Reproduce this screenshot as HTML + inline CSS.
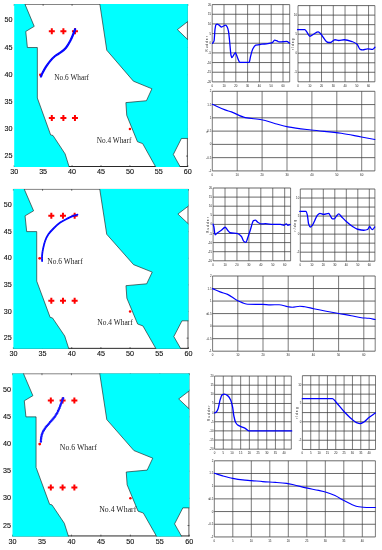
<!DOCTYPE html>
<html><head><meta charset="utf-8"><title>Ship berthing simulation</title>
<style>
html,body{margin:0;padding:0;background:#fff;}
svg{display:block;}
.t{font-family:"Liberation Sans",sans-serif;font-size:7.2px;fill:#111;stroke:#111;stroke-width:0.12px;}
.s{font-family:"Liberation Serif",serif;fill:#222;}
.m{font-family:"Liberation Sans",sans-serif;font-size:2.9px;fill:#222;}
</style></head><body>
<svg width="382" height="550" viewBox="0 0 382 550">
<rect width="382" height="550" fill="#fff"/>
<rect x="14.20" y="4.10" width="173.60" height="162.85" fill="#fff"/>
<path d="M14.20,4.50H187.80" stroke="#666" stroke-width="0.8" fill="none"/>
<path d="M187.40,4.10V166.95" stroke="#333" stroke-width="0.8" fill="none"/>
<path d="M14.20,166.50H187.80" stroke="#111" stroke-width="0.9" fill="none"/>
<line x1="14.20" y1="166.95" x2="14.20" y2="165.15" stroke="#222" stroke-width="0.6"/>
<line x1="14.20" y1="4.10" x2="14.20" y2="5.90" stroke="#222" stroke-width="0.6"/>
<text x="14.20" y="174.45" class="t" text-anchor="middle">30</text>
<line x1="43.13" y1="166.95" x2="43.13" y2="165.15" stroke="#222" stroke-width="0.6"/>
<line x1="43.13" y1="4.10" x2="43.13" y2="5.90" stroke="#222" stroke-width="0.6"/>
<text x="43.13" y="174.45" class="t" text-anchor="middle">35</text>
<line x1="72.07" y1="166.95" x2="72.07" y2="165.15" stroke="#222" stroke-width="0.6"/>
<line x1="72.07" y1="4.10" x2="72.07" y2="5.90" stroke="#222" stroke-width="0.6"/>
<text x="72.07" y="174.45" class="t" text-anchor="middle">40</text>
<line x1="101.00" y1="166.95" x2="101.00" y2="165.15" stroke="#222" stroke-width="0.6"/>
<line x1="101.00" y1="4.10" x2="101.00" y2="5.90" stroke="#222" stroke-width="0.6"/>
<text x="101.00" y="174.45" class="t" text-anchor="middle">45</text>
<line x1="129.93" y1="166.95" x2="129.93" y2="165.15" stroke="#222" stroke-width="0.6"/>
<line x1="129.93" y1="4.10" x2="129.93" y2="5.90" stroke="#222" stroke-width="0.6"/>
<text x="129.93" y="174.45" class="t" text-anchor="middle">50</text>
<line x1="158.87" y1="166.95" x2="158.87" y2="165.15" stroke="#222" stroke-width="0.6"/>
<line x1="158.87" y1="4.10" x2="158.87" y2="5.90" stroke="#222" stroke-width="0.6"/>
<text x="158.87" y="174.45" class="t" text-anchor="middle">55</text>
<line x1="187.80" y1="166.95" x2="187.80" y2="165.15" stroke="#222" stroke-width="0.6"/>
<line x1="187.80" y1="4.10" x2="187.80" y2="5.90" stroke="#222" stroke-width="0.6"/>
<text x="187.80" y="174.45" class="t" text-anchor="middle">60</text>
<line x1="187.80" y1="156.09" x2="186.00" y2="156.09" stroke="#222" stroke-width="0.6"/>
<text x="12.60" y="158.19" class="t" text-anchor="end">25</text>
<line x1="187.80" y1="128.95" x2="186.00" y2="128.95" stroke="#222" stroke-width="0.6"/>
<text x="12.60" y="131.05" class="t" text-anchor="end">30</text>
<line x1="187.80" y1="101.81" x2="186.00" y2="101.81" stroke="#222" stroke-width="0.6"/>
<text x="12.60" y="103.91" class="t" text-anchor="end">35</text>
<line x1="187.80" y1="74.67" x2="186.00" y2="74.67" stroke="#222" stroke-width="0.6"/>
<text x="12.60" y="76.77" class="t" text-anchor="end">40</text>
<line x1="187.80" y1="47.53" x2="186.00" y2="47.53" stroke="#222" stroke-width="0.6"/>
<text x="12.60" y="49.63" class="t" text-anchor="end">45</text>
<line x1="187.80" y1="20.38" x2="186.00" y2="20.38" stroke="#222" stroke-width="0.6"/>
<text x="12.60" y="22.48" class="t" text-anchor="end">50</text>
<polygon points="14.20,4.10 24.91,4.10 34.22,26.36 25.77,31.46 27.39,47.53 37.35,47.53 37.35,98.01 50.66,134.92 52.97,135.47 65.12,153.92 69.17,166.95 14.20,166.95" fill="#00ffff"/>
<path d="M24.91,4.10L34.22,26.36L25.77,31.46L27.39,47.53L37.35,47.53L37.35,98.01L50.66,134.92L52.97,135.47L65.12,153.92L69.17,166.95" fill="none" stroke="#222" stroke-width="0.65" stroke-linejoin="miter"/>
<polygon points="99.84,4.10 106.79,50.24 133.41,81.18 151.92,88.78 146.43,100.72 125.88,102.62 126.75,115.38 137.46,141.71 142.66,143.61 155.68,166.95 180.28,166.95 173.33,154.46 181.43,138.45 187.80,138.45 187.80,39.66 177.38,29.61 187.80,21.47 187.80,4.10" fill="#00ffff"/>
<path d="M99.84,4.10L106.79,50.24L133.41,81.18L151.92,88.78L146.43,100.72L125.88,102.62L126.75,115.38L137.46,141.71L142.66,143.61L155.68,166.95M180.28,166.95L173.33,154.46L181.43,138.45L187.80,138.45M187.80,39.66L177.38,29.61L187.80,21.47" fill="none" stroke="#222" stroke-width="0.65" stroke-linejoin="miter"/>
<path d="M48.81,31.24H54.81M51.81,28.24V34.24" stroke="#ff0000" stroke-width="2" fill="none"/>
<path d="M60.39,31.24H66.39M63.39,28.24V34.24" stroke="#ff0000" stroke-width="2" fill="none"/>
<path d="M71.96,31.24H77.96M74.96,28.24V34.24" stroke="#ff0000" stroke-width="2" fill="none"/>
<path d="M48.81,118.09H54.81M51.81,115.09V121.09" stroke="#ff0000" stroke-width="2" fill="none"/>
<path d="M60.39,118.09H66.39M63.39,115.09V121.09" stroke="#ff0000" stroke-width="2" fill="none"/>
<path d="M71.96,118.09H77.96M74.96,115.09V121.09" stroke="#ff0000" stroke-width="2" fill="none"/>
<circle cx="40.40" cy="74.80" r="1.4" fill="#ff0000"/>
<circle cx="129.93" cy="128.95" r="1.25" fill="#ff0000"/>
<path d="M40.90,76.60 C41.18,75.97 41.77,74.42 42.60,72.80 C43.43,71.18 44.65,68.85 45.90,66.90 C47.15,64.95 48.57,62.92 50.10,61.10 C51.63,59.28 53.28,57.48 55.10,56.00 C56.92,54.52 59.18,53.58 61.00,52.20 C62.82,50.82 64.47,49.57 66.00,47.70 C67.53,45.83 69.00,43.23 70.20,41.00 C71.40,38.77 72.37,36.27 73.20,34.30 C74.03,32.33 74.87,30.05 75.20,29.20" stroke="#0000ff" stroke-width="2.2" fill="none" stroke-linecap="round"/>
<path d="M40.90,76.60 C41.18,75.97 41.77,74.42 42.60,72.80 C43.43,71.18 44.65,68.85 45.90,66.90 C47.15,64.95 48.57,62.92 50.10,61.10 C51.63,59.28 53.28,57.48 55.10,56.00 C56.92,54.52 59.18,53.58 61.00,52.20 C62.82,50.82 64.47,49.57 66.00,47.70 C67.53,45.83 69.00,43.23 70.20,41.00 C71.40,38.77 72.37,36.27 73.20,34.30 C74.03,32.33 74.87,30.05 75.20,29.20" stroke="#6a6aff" stroke-width="0.5" fill="none" stroke-dasharray="0.7 1.6" opacity="0.8"/>
<text x="54.30" y="79.80" class="s" font-size="7.3">No.6 Wharf</text>
<text x="96.70" y="142.60" class="s" font-size="7.3">No.4 Wharf</text>
<rect x="212.20" y="4.60" width="77.50" height="77.30" fill="#fff"/>
<path d="M212.20,4.60V81.90M224.00,4.60V81.90M235.80,4.60V81.90M247.60,4.60V81.90M259.40,4.60V81.90M271.20,4.60V81.90M283.00,4.60V81.90M289.70,4.60V81.90" stroke="#555" stroke-width="0.78" fill="none"/>
<path d="M212.20,4.60H289.70M212.20,14.26H289.70M212.20,23.92H289.70M212.20,33.58H289.70M212.20,43.24H289.70M212.20,52.90H289.70M212.20,62.56H289.70M212.20,72.22H289.70M212.20,81.88H289.70" stroke="#3c3c3c" stroke-width="0.78" fill="none"/>
<path d="M212.54,43.34 C213.05,42.50 213.55,42.38 214.05,40.83 C214.39,39.80 214.72,31.13 215.06,28.89 C215.35,26.93 215.64,25.03 215.93,24.75 C216.35,24.35 216.77,24.12 217.19,24.12 C217.82,24.12 218.45,24.74 219.08,25.13 C219.91,25.64 220.75,27.01 221.59,27.01 C222.43,27.01 223.26,26.13 224.10,25.75 C224.60,25.53 225.11,25.13 225.61,25.13 C226.15,25.13 226.70,26.04 227.24,27.01 C227.66,27.75 228.08,29.30 228.50,31.41 C228.92,33.52 229.34,38.75 229.75,42.71 C230.17,46.68 230.59,53.62 231.01,55.28 C231.30,56.44 231.60,57.54 231.89,57.54 C232.43,57.54 232.98,56.02 233.52,55.28 C234.15,54.42 234.78,52.76 235.41,52.76 C235.83,52.76 236.24,54.33 236.66,55.28 C237.29,56.70 237.92,59.02 238.55,60.30 C238.97,61.16 239.39,62.44 239.80,62.44 C240.43,62.44 241.06,62.44 241.69,62.44 C244.20,62.44 246.71,62.44 249.23,62.44 C249.57,62.44 249.91,59.16 250.25,57.79 C251.09,54.42 251.93,50.56 252.76,48.99 C253.77,47.12 254.77,45.56 255.78,45.23 C257.71,44.59 259.63,44.43 261.56,44.22 C263.65,43.99 265.75,43.97 267.84,43.72 C269.35,43.54 270.85,43.32 272.36,42.71 C273.12,42.41 273.87,40.20 274.62,40.20 C275.29,40.20 275.96,40.48 276.63,40.70 C277.47,40.98 278.31,41.96 279.15,41.96 C280.40,41.96 281.66,41.79 282.91,41.71 C284.17,41.62 285.43,41.46 286.68,41.46 C287.69,41.46 288.69,42.63 289.70,43.22" stroke="#0000ff" stroke-width="1.3" fill="none" stroke-linejoin="round" stroke-linecap="round"/>
<text x="212.20" y="86.90" class="m" text-anchor="middle">0</text>
<text x="224.00" y="86.90" class="m" text-anchor="middle">10</text>
<text x="235.80" y="86.90" class="m" text-anchor="middle">20</text>
<text x="247.60" y="86.90" class="m" text-anchor="middle">30</text>
<text x="259.40" y="86.90" class="m" text-anchor="middle">40</text>
<text x="271.20" y="86.90" class="m" text-anchor="middle">50</text>
<text x="283.00" y="86.90" class="m" text-anchor="middle">60</text>
<text x="289.70" y="86.90" class="m" text-anchor="middle"></text>
<text x="211.20" y="5.60" class="m" text-anchor="end">20</text>
<text x="211.20" y="15.26" class="m" text-anchor="end">15</text>
<text x="211.20" y="24.92" class="m" text-anchor="end">10</text>
<text x="211.20" y="34.58" class="m" text-anchor="end">5</text>
<text x="211.20" y="44.24" class="m" text-anchor="end">0</text>
<text x="211.20" y="53.90" class="m" text-anchor="end">-5</text>
<text x="211.20" y="63.56" class="m" text-anchor="end">-10</text>
<text x="211.20" y="73.22" class="m" text-anchor="end">-15</text>
<text x="211.20" y="82.88" class="m" text-anchor="end">-20</text>
<text transform="translate(208.00,43.25) rotate(-90)" class="m" font-size="3" letter-spacing="1.2" text-anchor="middle">Rudder</text>
<rect x="298.00" y="5.60" width="76.90" height="76.20" fill="#fff"/>
<path d="M298.00,5.60V81.80M309.76,5.60V81.80M321.52,5.60V81.80M333.28,5.60V81.80M345.04,5.60V81.80M356.80,5.60V81.80M368.56,5.60V81.80M374.90,5.60V81.80" stroke="#555" stroke-width="0.78" fill="none"/>
<path d="M298.00,5.60H374.90M298.00,15.12H374.90M298.00,24.65H374.90M298.00,34.18H374.90M298.00,43.70H374.90M298.00,53.23H374.90M298.00,62.75H374.90M298.00,72.27H374.90M298.00,81.80H374.90" stroke="#3c3c3c" stroke-width="0.78" fill="none"/>
<path d="M297.56,29.70 C299.99,29.70 302.42,29.70 304.84,29.70 C305.43,29.70 306.02,30.98 306.60,31.71 C307.69,33.06 308.78,36.23 309.87,36.23 C311.13,36.23 312.38,34.87 313.64,34.22 C315.15,33.44 316.65,31.96 318.16,31.96 C318.75,31.96 319.33,32.52 319.92,32.96 C321.18,33.92 322.43,36.45 323.69,37.99 C324.94,39.53 326.20,42.04 327.46,42.26 C328.29,42.41 329.13,42.51 329.97,42.51 C331.64,42.51 333.32,39.75 334.99,39.75 C336.25,39.75 337.51,40.50 338.76,40.50 C340.61,40.50 342.45,39.75 344.29,39.75 C347.06,39.75 349.82,40.79 352.58,41.76 C354.09,42.29 355.60,42.97 357.11,44.27 C358.11,45.14 359.12,48.94 360.12,49.29 C360.96,49.59 361.80,49.80 362.63,49.80 C364.31,49.80 365.98,48.79 367.66,48.79 C369.33,48.79 371.01,49.29 372.68,49.29 C373.44,49.29 374.19,47.95 374.94,47.28" stroke="#0000ff" stroke-width="1.3" fill="none" stroke-linejoin="round" stroke-linecap="round"/>
<text x="298.00" y="86.80" class="m" text-anchor="middle">0</text>
<text x="309.76" y="86.80" class="m" text-anchor="middle">10</text>
<text x="321.52" y="86.80" class="m" text-anchor="middle">20</text>
<text x="333.28" y="86.80" class="m" text-anchor="middle">30</text>
<text x="345.04" y="86.80" class="m" text-anchor="middle">40</text>
<text x="356.80" y="86.80" class="m" text-anchor="middle">50</text>
<text x="368.56" y="86.80" class="m" text-anchor="middle">60</text>
<text x="374.90" y="86.80" class="m" text-anchor="middle"></text>
<text x="297.00" y="6.60" class="m" text-anchor="end"></text>
<text x="297.00" y="16.12" class="m" text-anchor="end">10</text>
<text x="297.00" y="25.65" class="m" text-anchor="end"></text>
<text x="297.00" y="35.18" class="m" text-anchor="end">5</text>
<text x="297.00" y="44.70" class="m" text-anchor="end"></text>
<text x="297.00" y="54.23" class="m" text-anchor="end">0</text>
<text x="297.00" y="63.75" class="m" text-anchor="end"></text>
<text x="297.00" y="73.27" class="m" text-anchor="end">-5</text>
<text x="297.00" y="82.80" class="m" text-anchor="end"></text>
<text transform="translate(293.80,43.70) rotate(-90)" class="m" font-size="3" letter-spacing="1.2" text-anchor="middle">r/deg</text>
<rect x="212.30" y="91.30" width="162.60" height="79.60" fill="#fff"/>
<path d="M212.30,91.30V170.90M237.20,91.30V170.90M262.10,91.30V170.90M287.00,91.30V170.90M311.90,91.30V170.90M336.80,91.30V170.90M361.70,91.30V170.90M374.90,91.30V170.90" stroke="#555" stroke-width="0.78" fill="none"/>
<path d="M212.30,91.30H374.90M212.30,104.57H374.90M212.30,117.84H374.90M212.30,131.11H374.90M212.30,144.38H374.90M212.30,157.65H374.90M212.30,170.92H374.90" stroke="#3c3c3c" stroke-width="0.78" fill="none"/>
<path d="M212.30,104.30 C216.57,106.17 220.83,108.36 225.10,109.90 C227.20,110.66 229.30,111.16 231.40,111.90 C236.00,113.52 240.60,116.69 245.20,117.60 C250.67,118.69 256.13,118.72 261.60,119.70 C266.20,120.53 270.80,122.45 275.40,123.70 C279.57,124.83 283.73,126.14 287.90,126.90 C295.63,128.30 303.37,129.08 311.10,130.00 C321.17,131.20 331.23,131.81 341.30,133.20 C348.00,134.13 354.70,135.75 361.40,137.00 C365.90,137.84 370.40,138.67 374.90,139.50" stroke="#0000ff" stroke-width="1.15" fill="none" stroke-linejoin="round" stroke-linecap="round"/>
<text x="212.30" y="175.90" class="m" text-anchor="middle">0</text>
<text x="237.20" y="175.90" class="m" text-anchor="middle">10</text>
<text x="262.10" y="175.90" class="m" text-anchor="middle">20</text>
<text x="287.00" y="175.90" class="m" text-anchor="middle">30</text>
<text x="311.90" y="175.90" class="m" text-anchor="middle">40</text>
<text x="336.80" y="175.90" class="m" text-anchor="middle">50</text>
<text x="361.70" y="175.90" class="m" text-anchor="middle">60</text>
<text x="374.90" y="175.90" class="m" text-anchor="middle"></text>
<text x="211.30" y="92.30" class="m" text-anchor="end">2</text>
<text x="211.30" y="105.57" class="m" text-anchor="end">1.5</text>
<text x="211.30" y="118.84" class="m" text-anchor="end">1</text>
<text x="211.30" y="132.11" class="m" text-anchor="end">0.5</text>
<text x="211.30" y="145.38" class="m" text-anchor="end">0</text>
<text x="211.30" y="158.65" class="m" text-anchor="end">-0.5</text>
<text x="211.30" y="171.92" class="m" text-anchor="end">-1</text>
<text transform="translate(208.10,131.10) rotate(-90)" class="m" font-size="3" letter-spacing="1.2" text-anchor="middle">u</text>
<rect x="13.40" y="189.00" width="175.00" height="159.80" fill="#fff"/>
<path d="M13.40,189.40H188.40" stroke="#666" stroke-width="0.8" fill="none"/>
<path d="M188.00,189.00V348.80" stroke="#333" stroke-width="0.8" fill="none"/>
<path d="M13.40,348.35H188.40" stroke="#111" stroke-width="0.9" fill="none"/>
<line x1="13.40" y1="348.80" x2="13.40" y2="347.00" stroke="#222" stroke-width="0.6"/>
<line x1="13.40" y1="189.00" x2="13.40" y2="190.80" stroke="#222" stroke-width="0.6"/>
<text x="13.40" y="356.30" class="t" text-anchor="middle">30</text>
<line x1="42.57" y1="348.80" x2="42.57" y2="347.00" stroke="#222" stroke-width="0.6"/>
<line x1="42.57" y1="189.00" x2="42.57" y2="190.80" stroke="#222" stroke-width="0.6"/>
<text x="42.57" y="356.30" class="t" text-anchor="middle">35</text>
<line x1="71.73" y1="348.80" x2="71.73" y2="347.00" stroke="#222" stroke-width="0.6"/>
<line x1="71.73" y1="189.00" x2="71.73" y2="190.80" stroke="#222" stroke-width="0.6"/>
<text x="71.73" y="356.30" class="t" text-anchor="middle">40</text>
<line x1="100.90" y1="348.80" x2="100.90" y2="347.00" stroke="#222" stroke-width="0.6"/>
<line x1="100.90" y1="189.00" x2="100.90" y2="190.80" stroke="#222" stroke-width="0.6"/>
<text x="100.90" y="356.30" class="t" text-anchor="middle">45</text>
<line x1="130.07" y1="348.80" x2="130.07" y2="347.00" stroke="#222" stroke-width="0.6"/>
<line x1="130.07" y1="189.00" x2="130.07" y2="190.80" stroke="#222" stroke-width="0.6"/>
<text x="130.07" y="356.30" class="t" text-anchor="middle">50</text>
<line x1="159.23" y1="348.80" x2="159.23" y2="347.00" stroke="#222" stroke-width="0.6"/>
<line x1="159.23" y1="189.00" x2="159.23" y2="190.80" stroke="#222" stroke-width="0.6"/>
<text x="159.23" y="356.30" class="t" text-anchor="middle">55</text>
<line x1="188.40" y1="348.80" x2="188.40" y2="347.00" stroke="#222" stroke-width="0.6"/>
<line x1="188.40" y1="189.00" x2="188.40" y2="190.80" stroke="#222" stroke-width="0.6"/>
<text x="188.40" y="356.30" class="t" text-anchor="middle">60</text>
<line x1="188.40" y1="338.15" x2="186.60" y2="338.15" stroke="#222" stroke-width="0.6"/>
<text x="11.80" y="340.25" class="t" text-anchor="end">25</text>
<line x1="188.40" y1="311.51" x2="186.60" y2="311.51" stroke="#222" stroke-width="0.6"/>
<text x="11.80" y="313.61" class="t" text-anchor="end">30</text>
<line x1="188.40" y1="284.88" x2="186.60" y2="284.88" stroke="#222" stroke-width="0.6"/>
<text x="11.80" y="286.98" class="t" text-anchor="end">35</text>
<line x1="188.40" y1="258.25" x2="186.60" y2="258.25" stroke="#222" stroke-width="0.6"/>
<text x="11.80" y="260.35" class="t" text-anchor="end">40</text>
<line x1="188.40" y1="231.61" x2="186.60" y2="231.61" stroke="#222" stroke-width="0.6"/>
<text x="11.80" y="233.71" class="t" text-anchor="end">45</text>
<line x1="188.40" y1="204.98" x2="186.60" y2="204.98" stroke="#222" stroke-width="0.6"/>
<text x="11.80" y="207.08" class="t" text-anchor="end">50</text>
<polygon points="13.40,189.00 24.19,189.00 33.58,210.84 25.07,215.85 26.70,231.61 36.73,231.61 36.73,281.15 50.15,317.37 52.48,317.91 64.73,336.02 68.82,348.80 13.40,348.80" fill="#00ffff"/>
<path d="M24.19,189.00L33.58,210.84L25.07,215.85L26.70,231.61L36.73,231.61L36.73,281.15L50.15,317.37L52.48,317.91L64.73,336.02L68.82,348.80" fill="none" stroke="#222" stroke-width="0.65" stroke-linejoin="miter"/>
<polygon points="99.73,189.00 106.73,234.28 133.57,264.64 152.23,272.10 146.69,283.81 125.98,285.68 126.86,298.20 137.65,324.03 142.90,325.90 156.03,348.80 180.82,348.80 173.82,336.55 181.98,320.84 188.40,320.84 188.40,223.89 177.90,214.04 188.40,206.05 188.40,189.00" fill="#00ffff"/>
<path d="M99.73,189.00L106.73,234.28L133.57,264.64L152.23,272.10L146.69,283.81L125.98,285.68L126.86,298.20L137.65,324.03L142.90,325.90L156.03,348.80M180.82,348.80L173.82,336.55L181.98,320.84L188.40,320.84M188.40,223.89L177.90,214.04L188.40,206.05" fill="none" stroke="#222" stroke-width="0.65" stroke-linejoin="miter"/>
<path d="M48.32,215.63H54.32M51.32,212.63V218.63" stroke="#ff0000" stroke-width="2" fill="none"/>
<path d="M59.98,215.63H65.98M62.98,212.63V218.63" stroke="#ff0000" stroke-width="2" fill="none"/>
<path d="M71.65,215.63H77.65M74.65,212.63V218.63" stroke="#ff0000" stroke-width="2" fill="none"/>
<path d="M48.32,300.86H54.32M51.32,297.86V303.86" stroke="#ff0000" stroke-width="2" fill="none"/>
<path d="M59.98,300.86H65.98M62.98,297.86V303.86" stroke="#ff0000" stroke-width="2" fill="none"/>
<path d="M71.65,300.86H77.65M74.65,297.86V303.86" stroke="#ff0000" stroke-width="2" fill="none"/>
<circle cx="39.70" cy="258.30" r="1.4" fill="#ff0000"/>
<circle cx="130.07" cy="311.51" r="1.25" fill="#ff0000"/>
<path d="M42.10,261.10 C42.10,260.13 41.93,257.38 42.10,255.30 C42.27,253.22 42.60,250.98 43.10,248.60 C43.60,246.22 44.22,243.38 45.10,241.00 C45.98,238.62 47.00,236.38 48.40,234.30 C49.80,232.22 51.53,230.45 53.50,228.50 C55.47,226.55 57.83,224.28 60.20,222.60 C62.57,220.92 65.42,219.57 67.70,218.40 C69.98,217.23 72.28,216.23 73.90,215.60 C75.52,214.97 76.82,214.77 77.40,214.60" stroke="#0000ff" stroke-width="1.8" fill="none" stroke-linecap="round"/>
<path d="M42.10,261.10 C42.10,260.13 41.93,257.38 42.10,255.30 C42.27,253.22 42.60,250.98 43.10,248.60 C43.60,246.22 44.22,243.38 45.10,241.00 C45.98,238.62 47.00,236.38 48.40,234.30 C49.80,232.22 51.53,230.45 53.50,228.50 C55.47,226.55 57.83,224.28 60.20,222.60 C62.57,220.92 65.42,219.57 67.70,218.40 C69.98,217.23 72.28,216.23 73.90,215.60 C75.52,214.97 76.82,214.77 77.40,214.60" stroke="#6a6aff" stroke-width="0.5" fill="none" stroke-dasharray="0.7 1.6" opacity="0.8"/>
<text x="47.30" y="263.60" class="s" font-size="7.45">No.6 Wharf</text>
<text x="97.30" y="325.30" class="s" font-size="7.45">No.4 Wharf</text>
<rect x="213.10" y="188.00" width="77.50" height="72.80" fill="#fff"/>
<path d="M213.10,188.00V260.80M225.03,188.00V260.80M236.96,188.00V260.80M248.89,188.00V260.80M260.82,188.00V260.80M272.75,188.00V260.80M284.68,188.00V260.80M290.60,188.00V260.80" stroke="#555" stroke-width="0.78" fill="none"/>
<path d="M213.10,188.00H290.60M213.10,197.10H290.60M213.10,206.20H290.60M213.10,215.30H290.60M213.10,224.40H290.60M213.10,233.50H290.60M213.10,242.60H290.60M213.10,251.70H290.60M213.10,260.80H290.60" stroke="#3c3c3c" stroke-width="0.78" fill="none"/>
<path d="M213.07,224.22 C213.32,224.97 213.57,225.48 213.82,226.48 C214.24,228.16 214.66,234.77 215.08,234.77 C215.91,234.77 216.75,233.38 217.59,232.76 C218.84,231.84 220.10,231.16 221.36,230.25 C222.61,229.34 223.87,227.24 225.13,227.24 C225.96,227.24 226.80,229.34 227.64,230.25 C228.48,231.16 229.31,232.59 230.15,232.76 C232.66,233.29 235.18,233.03 237.69,233.52 C238.94,233.76 240.20,235.05 241.46,236.53 C242.29,237.52 243.13,241.04 243.97,241.56 C244.64,241.97 245.31,242.31 245.98,242.31 C246.57,242.31 247.15,239.41 247.74,237.79 C248.58,235.48 249.41,232.73 250.25,230.25 C251.34,227.03 252.43,221.23 253.52,220.70 C254.10,220.42 254.69,220.20 255.28,220.20 C256.11,220.20 256.95,221.71 257.79,222.21 C259.05,222.96 260.30,223.97 261.56,223.97 C262.81,223.97 264.07,223.72 265.33,223.72 C267.84,223.72 270.35,224.47 272.86,224.47 C275.38,224.47 277.89,224.47 280.40,224.47 C281.66,224.47 282.91,225.23 284.17,225.23 C284.84,225.23 285.51,223.97 286.18,223.97 C286.77,223.97 287.35,225.23 287.94,225.23 C288.61,225.23 289.28,224.89 289.95,224.72" stroke="#0000ff" stroke-width="1.3" fill="none" stroke-linejoin="round" stroke-linecap="round"/>
<text x="213.10" y="265.80" class="m" text-anchor="middle">0</text>
<text x="225.03" y="265.80" class="m" text-anchor="middle">10</text>
<text x="236.96" y="265.80" class="m" text-anchor="middle">20</text>
<text x="248.89" y="265.80" class="m" text-anchor="middle">30</text>
<text x="260.82" y="265.80" class="m" text-anchor="middle">40</text>
<text x="272.75" y="265.80" class="m" text-anchor="middle">50</text>
<text x="284.68" y="265.80" class="m" text-anchor="middle">60</text>
<text x="290.60" y="265.80" class="m" text-anchor="middle"></text>
<text x="212.10" y="189.00" class="m" text-anchor="end">20</text>
<text x="212.10" y="198.10" class="m" text-anchor="end">15</text>
<text x="212.10" y="207.20" class="m" text-anchor="end">10</text>
<text x="212.10" y="216.30" class="m" text-anchor="end">5</text>
<text x="212.10" y="225.40" class="m" text-anchor="end">0</text>
<text x="212.10" y="234.50" class="m" text-anchor="end">-5</text>
<text x="212.10" y="243.60" class="m" text-anchor="end">-10</text>
<text x="212.10" y="252.70" class="m" text-anchor="end">-15</text>
<text x="212.10" y="261.80" class="m" text-anchor="end">-20</text>
<text transform="translate(208.90,224.40) rotate(-90)" class="m" font-size="3" letter-spacing="1.2" text-anchor="middle">Rudder</text>
<rect x="300.30" y="189.00" width="74.60" height="72.20" fill="#fff"/>
<path d="M300.30,189.00V261.20M311.80,189.00V261.20M323.30,189.00V261.20M334.80,189.00V261.20M346.30,189.00V261.20M357.80,189.00V261.20M369.30,189.00V261.20M374.90,189.00V261.20" stroke="#555" stroke-width="0.78" fill="none"/>
<path d="M300.30,189.00H374.90M300.30,198.03H374.90M300.30,207.05H374.90M300.30,216.07H374.90M300.30,225.10H374.90M300.30,234.12H374.90M300.30,243.15H374.90M300.30,252.18H374.90M300.30,261.20H374.90" stroke="#3c3c3c" stroke-width="0.78" fill="none"/>
<path d="M299.82,211.41 C301.91,211.41 304.01,211.41 306.10,211.41 C306.52,211.41 306.94,213.42 307.36,215.18 C307.78,216.93 308.19,222.78 308.61,223.97 C309.20,225.64 309.79,226.98 310.37,226.98 C311.04,226.98 311.71,226.03 312.38,225.23 C313.22,224.22 314.06,221.88 314.89,220.20 C315.73,218.53 316.57,216.04 317.41,215.18 C318.24,214.31 319.08,213.42 319.92,213.42 C321.18,213.42 322.43,214.42 323.69,214.42 C325.36,214.42 327.04,213.42 328.71,213.42 C329.13,213.42 329.55,214.57 329.97,215.18 C330.81,216.38 331.64,218.94 332.48,218.94 C333.07,218.94 333.65,218.94 334.24,218.94 C334.91,218.94 335.58,217.18 336.25,216.43 C337.09,215.50 337.93,213.92 338.76,213.92 C339.60,213.92 340.44,215.59 341.28,216.43 C342.95,218.11 344.63,219.96 346.30,221.46 C348.40,223.33 350.49,225.13 352.58,226.48 C354.26,227.57 355.93,228.82 357.61,229.25 C359.70,229.78 361.80,230.25 363.89,230.25 C365.15,230.25 366.40,229.98 367.66,229.50 C368.33,229.24 369.00,226.48 369.67,226.48 C370.25,226.48 370.84,228.64 371.43,228.99 C371.85,229.25 372.26,229.50 372.68,229.50 C373.35,229.50 374.02,227.82 374.69,226.98" stroke="#0000ff" stroke-width="1.3" fill="none" stroke-linejoin="round" stroke-linecap="round"/>
<text x="300.30" y="266.20" class="m" text-anchor="middle">0</text>
<text x="311.80" y="266.20" class="m" text-anchor="middle">10</text>
<text x="323.30" y="266.20" class="m" text-anchor="middle">20</text>
<text x="334.80" y="266.20" class="m" text-anchor="middle">30</text>
<text x="346.30" y="266.20" class="m" text-anchor="middle">40</text>
<text x="357.80" y="266.20" class="m" text-anchor="middle">50</text>
<text x="369.30" y="266.20" class="m" text-anchor="middle">60</text>
<text x="374.90" y="266.20" class="m" text-anchor="middle"></text>
<text x="299.30" y="190.00" class="m" text-anchor="end"></text>
<text x="299.30" y="199.03" class="m" text-anchor="end">10</text>
<text x="299.30" y="208.05" class="m" text-anchor="end"></text>
<text x="299.30" y="217.07" class="m" text-anchor="end">5</text>
<text x="299.30" y="226.10" class="m" text-anchor="end"></text>
<text x="299.30" y="235.12" class="m" text-anchor="end">0</text>
<text x="299.30" y="244.15" class="m" text-anchor="end"></text>
<text x="299.30" y="253.18" class="m" text-anchor="end">-5</text>
<text x="299.30" y="262.20" class="m" text-anchor="end"></text>
<text transform="translate(296.10,225.10) rotate(-90)" class="m" font-size="3" letter-spacing="1.2" text-anchor="middle">r/deg</text>
<rect x="212.60" y="276.00" width="162.60" height="75.20" fill="#fff"/>
<path d="M212.60,276.00V351.20M237.80,276.00V351.20M263.00,276.00V351.20M288.20,276.00V351.20M313.40,276.00V351.20M338.60,276.00V351.20M363.80,276.00V351.20M375.20,276.00V351.20" stroke="#555" stroke-width="0.78" fill="none"/>
<path d="M212.60,276.00H375.20M212.60,288.53H375.20M212.60,301.06H375.20M212.60,313.59H375.20M212.60,326.12H375.20M212.60,338.65H375.20M212.60,351.18H375.20" stroke="#3c3c3c" stroke-width="0.78" fill="none"/>
<path d="M212.60,288.60 C215.10,289.70 217.60,290.95 220.10,291.90 C222.60,292.85 225.10,293.33 227.60,294.40 C230.97,295.84 234.33,299.19 237.70,300.70 C241.03,302.19 244.37,304.11 247.70,304.20 C252.73,304.34 257.77,304.28 262.80,304.40 C265.33,304.46 267.87,304.90 270.40,304.90 C273.30,304.90 276.20,304.70 279.10,304.70 C282.03,304.70 284.97,306.27 287.90,306.70 C289.37,306.91 290.83,307.20 292.30,307.20 C294.80,307.20 297.30,306.20 299.80,306.20 C301.47,306.20 303.13,306.48 304.80,306.70 C307.73,307.09 310.67,308.08 313.60,308.70 C317.80,309.59 322.00,310.40 326.20,311.20 C330.40,312.00 334.60,312.75 338.80,313.50 C342.97,314.25 347.13,314.92 351.30,315.70 C354.67,316.33 358.03,317.32 361.40,317.70 C363.90,317.98 366.40,318.01 368.90,318.30 C371.00,318.54 373.10,319.10 375.20,319.50" stroke="#0000ff" stroke-width="1.15" fill="none" stroke-linejoin="round" stroke-linecap="round"/>
<text x="212.60" y="356.20" class="m" text-anchor="middle">0</text>
<text x="237.80" y="356.20" class="m" text-anchor="middle">10</text>
<text x="263.00" y="356.20" class="m" text-anchor="middle">20</text>
<text x="288.20" y="356.20" class="m" text-anchor="middle">30</text>
<text x="313.40" y="356.20" class="m" text-anchor="middle">40</text>
<text x="338.60" y="356.20" class="m" text-anchor="middle">50</text>
<text x="363.80" y="356.20" class="m" text-anchor="middle">60</text>
<text x="375.20" y="356.20" class="m" text-anchor="middle"></text>
<text x="211.60" y="277.00" class="m" text-anchor="end">2</text>
<text x="211.60" y="289.53" class="m" text-anchor="end">1.5</text>
<text x="211.60" y="302.06" class="m" text-anchor="end">1</text>
<text x="211.60" y="314.59" class="m" text-anchor="end">0.5</text>
<text x="211.60" y="327.12" class="m" text-anchor="end">0</text>
<text x="211.60" y="339.65" class="m" text-anchor="end">-0.5</text>
<text x="211.60" y="352.18" class="m" text-anchor="end">-1</text>
<text transform="translate(208.40,313.60) rotate(-90)" class="m" font-size="3" letter-spacing="1.2" text-anchor="middle">u</text>
<rect x="12.50" y="373.40" width="176.80" height="163.00" fill="#fff"/>
<path d="M12.50,373.80H189.30" stroke="#666" stroke-width="0.8" fill="none"/>
<path d="M188.90,373.40V536.40" stroke="#333" stroke-width="0.8" fill="none"/>
<path d="M12.50,535.95H189.30" stroke="#111" stroke-width="0.9" fill="none"/>
<line x1="12.50" y1="536.40" x2="12.50" y2="534.60" stroke="#222" stroke-width="0.6"/>
<line x1="12.50" y1="373.40" x2="12.50" y2="375.20" stroke="#222" stroke-width="0.6"/>
<text x="12.50" y="543.90" class="t" text-anchor="middle">30</text>
<line x1="41.97" y1="536.40" x2="41.97" y2="534.60" stroke="#222" stroke-width="0.6"/>
<line x1="41.97" y1="373.40" x2="41.97" y2="375.20" stroke="#222" stroke-width="0.6"/>
<text x="41.97" y="543.90" class="t" text-anchor="middle">35</text>
<line x1="71.43" y1="536.40" x2="71.43" y2="534.60" stroke="#222" stroke-width="0.6"/>
<line x1="71.43" y1="373.40" x2="71.43" y2="375.20" stroke="#222" stroke-width="0.6"/>
<text x="71.43" y="543.90" class="t" text-anchor="middle">40</text>
<line x1="100.90" y1="536.40" x2="100.90" y2="534.60" stroke="#222" stroke-width="0.6"/>
<line x1="100.90" y1="373.40" x2="100.90" y2="375.20" stroke="#222" stroke-width="0.6"/>
<text x="100.90" y="543.90" class="t" text-anchor="middle">45</text>
<line x1="130.37" y1="536.40" x2="130.37" y2="534.60" stroke="#222" stroke-width="0.6"/>
<line x1="130.37" y1="373.40" x2="130.37" y2="375.20" stroke="#222" stroke-width="0.6"/>
<text x="130.37" y="543.90" class="t" text-anchor="middle">50</text>
<line x1="159.83" y1="536.40" x2="159.83" y2="534.60" stroke="#222" stroke-width="0.6"/>
<line x1="159.83" y1="373.40" x2="159.83" y2="375.20" stroke="#222" stroke-width="0.6"/>
<text x="159.83" y="543.90" class="t" text-anchor="middle">55</text>
<line x1="189.30" y1="536.40" x2="189.30" y2="534.60" stroke="#222" stroke-width="0.6"/>
<line x1="189.30" y1="373.40" x2="189.30" y2="375.20" stroke="#222" stroke-width="0.6"/>
<text x="189.30" y="543.90" class="t" text-anchor="middle">60</text>
<line x1="189.30" y1="525.53" x2="187.50" y2="525.53" stroke="#222" stroke-width="0.6"/>
<text x="10.90" y="527.63" class="t" text-anchor="end">25</text>
<line x1="189.30" y1="498.37" x2="187.50" y2="498.37" stroke="#222" stroke-width="0.6"/>
<text x="10.90" y="500.47" class="t" text-anchor="end">30</text>
<line x1="189.30" y1="471.20" x2="187.50" y2="471.20" stroke="#222" stroke-width="0.6"/>
<text x="10.90" y="473.30" class="t" text-anchor="end">35</text>
<line x1="189.30" y1="444.03" x2="187.50" y2="444.03" stroke="#222" stroke-width="0.6"/>
<text x="10.90" y="446.13" class="t" text-anchor="end">40</text>
<line x1="189.30" y1="416.87" x2="187.50" y2="416.87" stroke="#222" stroke-width="0.6"/>
<text x="10.90" y="418.97" class="t" text-anchor="end">45</text>
<line x1="189.30" y1="389.70" x2="187.50" y2="389.70" stroke="#222" stroke-width="0.6"/>
<text x="10.90" y="391.80" class="t" text-anchor="end">50</text>
<polygon points="12.50,373.40 23.40,373.40 32.89,395.68 24.29,400.78 25.94,416.87 36.07,416.87 36.07,467.40 49.63,504.34 51.99,504.89 64.36,523.36 68.49,536.40 12.50,536.40" fill="#00ffff"/>
<path d="M23.40,373.40L32.89,395.68L24.29,400.78L25.94,416.87L36.07,416.87L36.07,467.40L49.63,504.34L51.99,504.89L64.36,523.36L68.49,536.40" fill="none" stroke="#222" stroke-width="0.65" stroke-linejoin="miter"/>
<polygon points="99.72,373.40 106.79,419.58 133.90,450.55 152.76,458.16 147.16,470.11 126.24,472.01 127.13,484.78 138.03,511.13 143.33,513.04 156.59,536.40 181.64,536.40 174.57,523.90 182.82,507.88 189.30,507.88 189.30,408.99 178.69,398.94 189.30,390.79 189.30,373.40" fill="#00ffff"/>
<path d="M99.72,373.40L106.79,419.58L133.90,450.55L152.76,458.16L147.16,470.11L126.24,472.01L127.13,484.78L138.03,511.13L143.33,513.04L156.59,536.40M181.64,536.40L174.57,523.90L182.82,507.88L189.30,507.88M189.30,408.99L178.69,398.94L189.30,390.79" fill="none" stroke="#222" stroke-width="0.65" stroke-linejoin="miter"/>
<path d="M47.81,400.57H53.81M50.81,397.57V403.57" stroke="#ff0000" stroke-width="2" fill="none"/>
<path d="M59.59,400.57H65.59M62.59,397.57V403.57" stroke="#ff0000" stroke-width="2" fill="none"/>
<path d="M71.38,400.57H77.38M74.38,397.57V403.57" stroke="#ff0000" stroke-width="2" fill="none"/>
<path d="M47.81,487.50H53.81M50.81,484.50V490.50" stroke="#ff0000" stroke-width="2" fill="none"/>
<path d="M59.59,487.50H65.59M62.59,484.50V490.50" stroke="#ff0000" stroke-width="2" fill="none"/>
<path d="M71.38,487.50H77.38M74.38,484.50V490.50" stroke="#ff0000" stroke-width="2" fill="none"/>
<circle cx="39.70" cy="444.10" r="1.4" fill="#ff0000"/>
<circle cx="130.37" cy="498.37" r="1.25" fill="#ff0000"/>
<path d="M40.90,441.50 C40.97,440.77 40.98,438.67 41.30,437.10 C41.62,435.53 42.03,433.77 42.80,432.10 C43.57,430.43 44.75,428.67 45.90,427.10 C47.05,425.53 48.43,424.17 49.70,422.70 C50.97,421.23 52.35,419.77 53.50,418.30 C54.65,416.83 55.67,415.48 56.60,413.90 C57.53,412.32 58.37,410.48 59.10,408.80 C59.83,407.12 60.42,405.37 61.00,403.80 C61.58,402.23 62.18,400.45 62.60,399.40 C63.02,398.35 63.35,397.82 63.50,397.50" stroke="#1414ff" stroke-width="2.5" fill="none" stroke-linecap="round" stroke-dasharray="0 1.7"/>
<text x="59.80" y="449.50" class="s" font-size="7.8">No.6 Wharf</text>
<text x="99.20" y="512.00" class="s" font-size="7.8">No.4 Wharf</text>
<rect x="214.60" y="376.05" width="76.70" height="73.15" fill="#fff"/>
<path d="M214.60,376.05V449.20M223.29,376.05V449.20M231.98,376.05V449.20M240.67,376.05V449.20M249.36,376.05V449.20M258.05,376.05V449.20M266.74,376.05V449.20M275.43,376.05V449.20M284.12,376.05V449.20M291.30,376.05V449.20" stroke="#555" stroke-width="0.78" fill="none"/>
<path d="M214.60,376.05H291.30M214.60,385.19H291.30M214.60,394.33H291.30M214.60,403.47H291.30M214.60,412.61H291.30M214.60,421.75H291.30M214.60,430.89H291.30M214.60,440.03H291.30M214.60,449.17H291.30" stroke="#3c3c3c" stroke-width="0.78" fill="none"/>
<path d="M214.57,412.98 C215.16,412.65 215.75,412.49 216.33,411.98 C216.92,411.47 217.50,410.23 218.09,408.71 C218.76,406.98 219.43,402.05 220.10,399.92 C220.77,397.79 221.44,395.29 222.11,394.89 C222.86,394.44 223.62,394.14 224.37,394.14 C225.46,394.14 226.55,394.89 227.64,395.65 C228.64,396.35 229.65,397.79 230.65,399.92 C231.32,401.34 231.99,404.11 232.66,407.46 C233.08,409.55 233.50,414.23 233.92,416.25 C234.51,419.08 235.09,421.44 235.68,422.53 C236.35,423.79 237.02,424.57 237.69,425.05 C238.94,425.94 240.20,426.26 241.46,426.80 C242.71,427.35 243.97,427.68 245.23,428.31 C246.48,428.95 247.74,430.90 248.99,430.90 C251.93,430.90 254.86,430.90 257.79,430.90 C269.10,430.90 280.40,430.90 291.71,430.90" stroke="#0000ff" stroke-width="1.3" fill="none" stroke-linejoin="round" stroke-linecap="round"/>
<text x="214.60" y="454.20" class="m" text-anchor="middle">0</text>
<text x="223.29" y="454.20" class="m" text-anchor="middle">5</text>
<text x="231.98" y="454.20" class="m" text-anchor="middle">10</text>
<text x="240.67" y="454.20" class="m" text-anchor="middle">15</text>
<text x="249.36" y="454.20" class="m" text-anchor="middle">20</text>
<text x="258.05" y="454.20" class="m" text-anchor="middle">25</text>
<text x="266.74" y="454.20" class="m" text-anchor="middle">30</text>
<text x="275.43" y="454.20" class="m" text-anchor="middle">35</text>
<text x="284.12" y="454.20" class="m" text-anchor="middle">40</text>
<text x="291.30" y="454.20" class="m" text-anchor="middle"></text>
<text x="213.60" y="377.05" class="m" text-anchor="end">20</text>
<text x="213.60" y="386.19" class="m" text-anchor="end">15</text>
<text x="213.60" y="395.33" class="m" text-anchor="end">10</text>
<text x="213.60" y="404.47" class="m" text-anchor="end">5</text>
<text x="213.60" y="413.61" class="m" text-anchor="end">0</text>
<text x="213.60" y="422.75" class="m" text-anchor="end">-5</text>
<text x="213.60" y="431.89" class="m" text-anchor="end">-10</text>
<text x="213.60" y="441.03" class="m" text-anchor="end">-15</text>
<text x="213.60" y="450.17" class="m" text-anchor="end">-20</text>
<text transform="translate(210.40,412.62) rotate(-90)" class="m" font-size="3" letter-spacing="1.2" text-anchor="middle">Rudder</text>
<rect x="302.40" y="375.70" width="73.10" height="73.75" fill="#fff"/>
<path d="M302.40,375.70V449.45M310.74,375.70V449.45M319.08,375.70V449.45M327.42,375.70V449.45M335.76,375.70V449.45M344.10,375.70V449.45M352.44,375.70V449.45M360.78,375.70V449.45M369.12,375.70V449.45M375.50,375.70V449.45" stroke="#555" stroke-width="0.78" fill="none"/>
<path d="M302.40,375.70H375.50M302.40,384.92H375.50M302.40,394.14H375.50M302.40,403.36H375.50M302.40,412.58H375.50M302.40,421.80H375.50M302.40,431.02H375.50M302.40,440.24H375.50M302.40,449.46H375.50" stroke="#3c3c3c" stroke-width="0.78" fill="none"/>
<path d="M302.33,398.66 C306.94,398.66 311.54,398.66 316.15,398.66 C321.59,398.66 327.04,398.66 332.48,398.66 C333.74,398.66 334.99,401.09 336.25,402.43 C338.76,405.12 341.28,408.52 343.79,411.23 C346.30,413.93 348.81,416.63 351.33,418.76 C353.00,420.19 354.68,421.89 356.35,422.53 C357.61,423.02 358.86,423.54 360.12,423.54 C361.38,423.54 362.63,422.71 363.89,422.03 C365.56,421.12 367.24,418.83 368.91,417.51 C371.09,415.79 373.27,414.49 375.45,412.98" stroke="#0000ff" stroke-width="1.3" fill="none" stroke-linejoin="round" stroke-linecap="round"/>
<text x="302.40" y="454.45" class="m" text-anchor="middle">0</text>
<text x="310.74" y="454.45" class="m" text-anchor="middle">5</text>
<text x="319.08" y="454.45" class="m" text-anchor="middle">10</text>
<text x="327.42" y="454.45" class="m" text-anchor="middle">15</text>
<text x="335.76" y="454.45" class="m" text-anchor="middle">20</text>
<text x="344.10" y="454.45" class="m" text-anchor="middle">25</text>
<text x="352.44" y="454.45" class="m" text-anchor="middle">30</text>
<text x="360.78" y="454.45" class="m" text-anchor="middle">35</text>
<text x="369.12" y="454.45" class="m" text-anchor="middle">40</text>
<text x="375.50" y="454.45" class="m" text-anchor="middle"></text>
<text x="301.40" y="376.70" class="m" text-anchor="end"></text>
<text x="301.40" y="385.92" class="m" text-anchor="end">10</text>
<text x="301.40" y="395.14" class="m" text-anchor="end"></text>
<text x="301.40" y="404.36" class="m" text-anchor="end">5</text>
<text x="301.40" y="413.58" class="m" text-anchor="end"></text>
<text x="301.40" y="422.80" class="m" text-anchor="end">0</text>
<text x="301.40" y="432.02" class="m" text-anchor="end"></text>
<text x="301.40" y="441.24" class="m" text-anchor="end">-5</text>
<text x="301.40" y="450.46" class="m" text-anchor="end"></text>
<text transform="translate(298.20,412.57) rotate(-90)" class="m" font-size="3" letter-spacing="1.2" text-anchor="middle">r/deg</text>
<rect x="214.30" y="460.80" width="161.10" height="76.10" fill="#fff"/>
<path d="M214.30,460.80V536.90M232.80,460.80V536.90M251.30,460.80V536.90M269.80,460.80V536.90M288.30,460.80V536.90M306.80,460.80V536.90M325.30,460.80V536.90M343.80,460.80V536.90M362.30,460.80V536.90M375.40,460.80V536.90" stroke="#555" stroke-width="0.78" fill="none"/>
<path d="M214.30,460.80H375.40M214.30,473.49H375.40M214.30,486.18H375.40M214.30,498.87H375.40M214.30,511.56H375.40M214.30,524.25H375.40M214.30,536.94H375.40" stroke="#3c3c3c" stroke-width="0.78" fill="none"/>
<path d="M214.30,473.30 C217.07,474.17 219.83,475.13 222.60,475.90 C225.97,476.83 229.33,477.77 232.70,478.40 C236.03,479.02 239.37,479.56 242.70,479.90 C245.63,480.20 248.57,480.35 251.50,480.60 C255.27,480.91 259.03,481.32 262.80,481.60 C267.00,481.91 271.20,482.09 275.40,482.40 C279.17,482.68 282.93,482.93 286.70,483.40 C288.97,483.68 291.23,484.21 293.50,484.70 C297.70,485.60 301.90,486.96 306.10,487.90 C310.30,488.84 314.50,489.48 318.70,490.40 C321.20,490.95 323.70,491.47 326.20,492.20 C329.13,493.05 332.07,494.17 335.00,495.50 C337.93,496.83 340.87,498.93 343.80,500.50 C346.30,501.84 348.80,503.30 351.30,504.30 C353.83,505.31 356.37,506.43 358.90,506.80 C361.40,507.16 363.90,507.50 366.40,507.50 C369.40,507.50 372.40,507.50 375.40,507.50" stroke="#0000ff" stroke-width="1.15" fill="none" stroke-linejoin="round" stroke-linecap="round"/>
<text x="214.30" y="541.90" class="m" text-anchor="middle">0</text>
<text x="232.80" y="541.90" class="m" text-anchor="middle">5</text>
<text x="251.30" y="541.90" class="m" text-anchor="middle">10</text>
<text x="269.80" y="541.90" class="m" text-anchor="middle">15</text>
<text x="288.30" y="541.90" class="m" text-anchor="middle">20</text>
<text x="306.80" y="541.90" class="m" text-anchor="middle">25</text>
<text x="325.30" y="541.90" class="m" text-anchor="middle">30</text>
<text x="343.80" y="541.90" class="m" text-anchor="middle">35</text>
<text x="362.30" y="541.90" class="m" text-anchor="middle">40</text>
<text x="375.40" y="541.90" class="m" text-anchor="middle"></text>
<text x="213.30" y="461.80" class="m" text-anchor="end">2</text>
<text x="213.30" y="474.49" class="m" text-anchor="end">1.5</text>
<text x="213.30" y="487.18" class="m" text-anchor="end">1</text>
<text x="213.30" y="499.87" class="m" text-anchor="end">0.5</text>
<text x="213.30" y="512.56" class="m" text-anchor="end">0</text>
<text x="213.30" y="525.25" class="m" text-anchor="end">-0.5</text>
<text x="213.30" y="537.94" class="m" text-anchor="end">-1</text>
<text transform="translate(210.10,498.85) rotate(-90)" class="m" font-size="3" letter-spacing="1.2" text-anchor="middle">u</text>
</svg>
</body></html>
